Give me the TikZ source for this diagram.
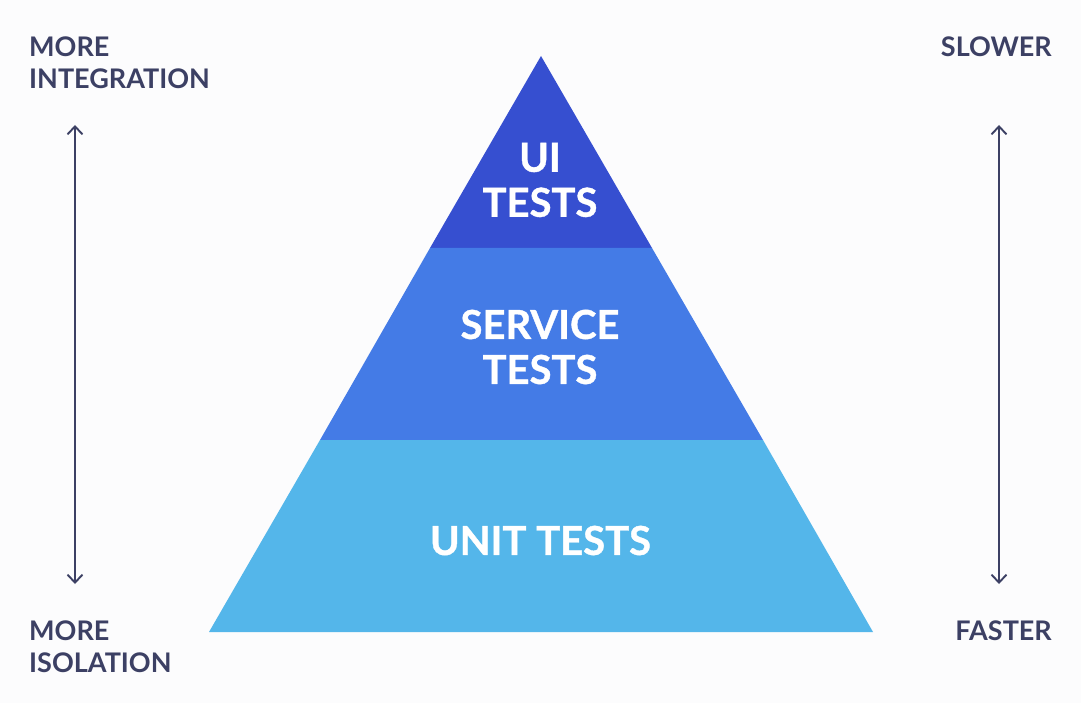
\documentclass[tikz,border=0pt]{standalone}
\usepackage{fontspec}
\setmainfont{Lato}
\newfontfamily\bandfont[BoldFeatures={FakeBold=0.9}]{Lato}
\usepackage{tikz}
\usetikzlibrary{arrows.meta,positioning,calc}
\definecolor{pagebg}{HTML}{FCFCFD}
\definecolor{inkblue}{HTML}{3C4064}
\definecolor{uiblue}{HTML}{364FD0}
\definecolor{serviceblue}{HTML}{447BE6}
\definecolor{unitblue}{HTML}{54B6EA}
\tikzset{
  sidelabel/.style = {text = inkblue, font = \fontsize{27}{32.5}\selectfont\bfseries, inner sep = 0, align = left},
  bandlabel/.style = {text = white, font = \bandfont\fontsize{40}{45}\selectfont\bfseries, inner sep = 0, align = center},
  sidearrow/.style = {{Straight Barb[length = 8, width = 15]}-{Straight Barb[length = 8, width = 15]}, draw = inkblue, line width = 1.9}
}
\begin{document}
\begin{tikzpicture}[x = 1pt, y = -1pt]
\fill[pagebg] (0, 0) rectangle (1081, 703);
\useasboundingbox (0, 0) rectangle (1081, 703);

\fill[uiblue] (541, 56) -- (652, 248) -- (430, 248) -- cycle;
\fill[serviceblue] (430, 248) -- (652, 248) -- (763, 440) -- (320, 440) -- cycle;
\fill[unitblue] (320, 440) -- (763, 440) -- (873, 632) -- (209, 632) -- cycle;

\node[bandlabel] (ui) at (540, 180) {UI\\TESTS};
\node[bandlabel] (service) at (540, 347) {SERVICE\\TESTS};
\node[bandlabel] (unit) at (540.5, 540.5) {UNIT TESTS};

\node[sidelabel, anchor = north west] (integration) at (29, 36.5) {MORE\\INTEGRATION};
\node[sidelabel, anchor = north west] (isolation) at (29, 620.5) {MORE\\ISOLATION};
\node[sidelabel, anchor = north east] (slower) at (1052, 36.5) {SLOWER};
\node[sidelabel, anchor = north east] (faster) at (1052, 620.5) {FASTER};

\coordinate (lefttop) at (75, 125);
\coordinate (leftbot) at (75, 584);
\coordinate (righttop) at (999, 125);
\coordinate (rightbot) at (999, 584);

\draw[sidearrow] (lefttop) -- (leftbot);
\draw[sidearrow] (righttop) -- (rightbot);

\end{tikzpicture}
\end{document}
